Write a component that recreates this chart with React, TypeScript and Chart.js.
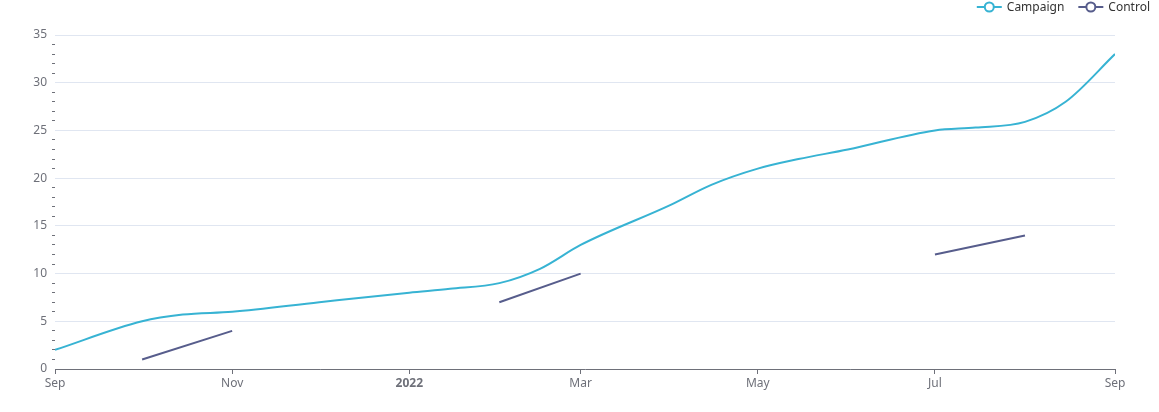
import React, { useEffect, useRef } from 'react';
import { Chart, registerables } from 'chart.js';

Chart.register(...registerables);

// ---- data ----
const startDate = '2021-09-01';
const campaignDates = [
  '2021-09-01', '2021-10-01', '2021-10-15', '2021-11-01', '2021-12-01',
  '2022-01-01', '2022-01-15', '2022-02-01', '2022-02-15', '2022-03-01',
  '2022-04-01', '2022-04-15', '2022-05-01', '2022-05-15', '2022-06-01',
  '2022-07-01', '2022-07-15', '2022-08-01', '2022-08-15', '2022-09-01',
];
const campaignValues = [
  2, 5, 5.7, 6, 7,
  8, 8.4, 9, 10.5, 13,
  17.2, 19.3, 21, 22, 23,
  25, 25.3, 25.9, 28, 33,
];
const controlDates = [
  '2021-10-01', '2021-11-01', '2021-12-15',
  '2022-02-01', '2022-03-01', '2022-05-01',
  '2022-07-01', '2022-08-01',
];
const controlValues = [1, 4, null, 7, 10, null, 12, 14];
const seriesNames = ['Campaign', 'Control'];
const seriesColors = ['#37b3d3', '#575d8c'];
const xTickDates = ['2021-09-01', '2021-11-01', '2022-01-01', '2022-03-01', '2022-05-01', '2022-07-01', '2022-09-01'];
const xTickLabels = ['Sep', 'Nov', '2022', 'Mar', 'May', 'Jul', 'Sep'];
const yMin = 0;
const yMax = 35;

const FONT = "'Noto Sans', 'DejaVu Sans', sans-serif";
const AXIS_COLOR = '#6e7079';

const toDay = (d: string) => {
  const [y, m, dd] = d.split('-').map(Number);
  const [sy, sm, sd] = startDate.split('-').map(Number);
  return (Date.UTC(y, m - 1, dd) - Date.UTC(sy, sm - 1, sd)) / 86400000;
};

const customLegend = {
  id: 'customLegend',
  afterDraw(chart: any) {
    const ctx = chart.ctx;
    ctx.save();
    ctx.font = `12px ${FONT}`;
    ctx.textBaseline = 'middle';
    const y = 7;
    const iconW = 25;
    const gap = 5;
    const itemGap = 14;
    let right = 1150;
    const items = chart.data.datasets.map((ds: any) => ({ text: ds.label, color: ds.borderColor }));
    const positions: any[] = [];
    for (let i = items.length - 1; i >= 0; i--) {
      const tw = ctx.measureText(items[i].text).width;
      const textX = right - tw;
      const iconX = textX - gap - iconW;
      positions[i] = { textX, iconX };
      right = iconX - itemGap;
    }
    items.forEach((it: any, i: number) => {
      const { textX, iconX } = positions[i];
      ctx.strokeStyle = it.color;
      ctx.lineWidth = 2;
      ctx.beginPath();
      ctx.moveTo(iconX, y);
      ctx.lineTo(iconX + iconW, y);
      ctx.stroke();
      ctx.beginPath();
      ctx.arc(iconX + iconW / 2, y, 4.5, 0, Math.PI * 2);
      ctx.fillStyle = '#fff';
      ctx.fill();
      ctx.stroke();
      ctx.fillStyle = '#333';
      ctx.textAlign = 'left';
      ctx.fillText(it.text, textX, y + 0.5);
    });
    ctx.restore();
  },
};

export default function App() {
  const canvasRef = useRef<HTMLCanvasElement | null>(null);

  useEffect(() => {
    if (!canvasRef.current) return;
    const chart = new Chart(canvasRef.current, {
      type: 'line',
      data: {
        datasets: [
          {
            label: seriesNames[0],
            data: campaignDates.map((d, i) => ({ x: toDay(d), y: campaignValues[i] })),
            borderColor: seriesColors[0],
            backgroundColor: seriesColors[0],
            borderWidth: 2,
            pointRadius: 0,
            cubicInterpolationMode: 'monotone',
            fill: false,
          },
          {
            label: seriesNames[1],
            data: controlDates.map((d, i) => ({ x: toDay(d), y: controlValues[i] })) as any,
            borderColor: seriesColors[1],
            backgroundColor: seriesColors[1],
            borderWidth: 2,
            pointRadius: 0,
            spanGaps: false,
            fill: false,
          },
        ],
      },
      options: {
        animation: false,
        responsive: false,
        maintainAspectRatio: false,
        layout: { padding: { left: 0, right: 44, top: 35, bottom: 0 } },
        plugins: {
          legend: { display: false },
          tooltip: { enabled: false },
        },
        scales: {
          x: {
            type: 'linear',
            min: toDay(xTickDates[0]),
            max: toDay(xTickDates[xTickDates.length - 1]),
            afterBuildTicks: (scale: any) => {
              scale.ticks = xTickDates.map((d) => ({ value: toDay(d) }));
            },
            afterFit: (scale: any) => {
              scale.height = 43;
            },
            border: { display: true, color: AXIS_COLOR, width: 1 },
            grid: {
              drawOnChartArea: false,
              drawTicks: true,
              tickLength: 5,
              color: AXIS_COLOR,
            },
            ticks: {
              autoSkip: false,
              maxRotation: 0,
              padding: 2,
              color: AXIS_COLOR,
              font: (ctx: any) => ({
                family: FONT,
                size: 12,
                weight: xTickLabels[ctx.index] === '2022' ? 'bold' : 'normal',
              }),
              callback: (_v: any, i: number) => xTickLabels[i],
            },
          },
          y: {
            type: 'linear',
            min: yMin,
            max: yMax,
            afterFit: (scale: any) => {
              scale.width = 55;
            },
            border: { display: false },
            grid: {
              tickLength: 3,
              color: (ctx: any) => (ctx.tick && ctx.tick.value % 5 === 0 ? '#e0e6f1' : 'rgba(0,0,0,0)'),
              tickColor: (ctx: any) => (ctx.tick && ctx.tick.value % 5 === 0 ? 'rgba(0,0,0,0)' : AXIS_COLOR),
            },
            ticks: {
              stepSize: 1,
              autoSkip: false,
              padding: 5,
              color: AXIS_COLOR,
              font: { family: FONT, size: 12 },
              callback: (v: any) => (Number(v) % 5 === 0 ? String(v) : ''),
            },
          },
        },
      },
      plugins: [customLegend],
    } as any);
    return () => chart.destroy();
  }, []);

  return (
    <div style={{ position: 'absolute', left: 0, top: 0, width: 1159, height: 412, background: '#fff' }}>
      <canvas ref={canvasRef} width={1159} height={412} style={{ display: 'block' }} />
    </div>
  );
}
